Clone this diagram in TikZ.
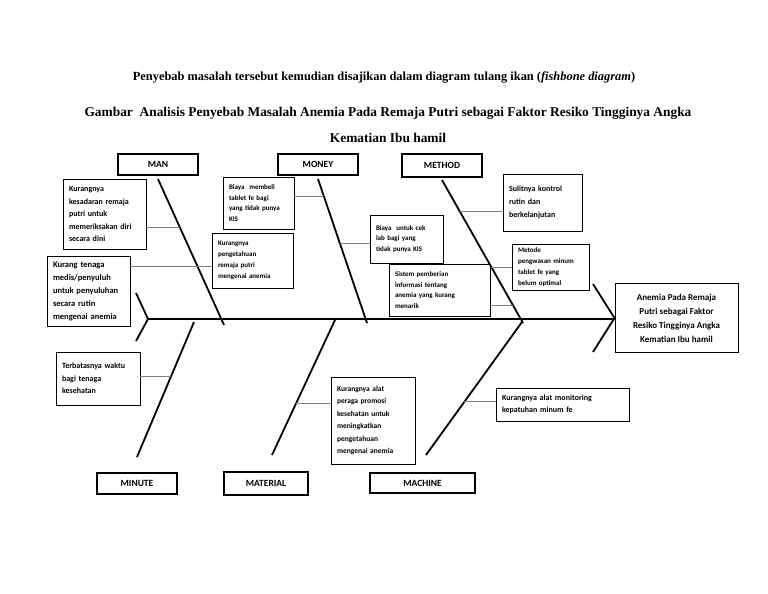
\documentclass[tikz,border=0pt]{standalone}
\usepackage{fontspec}
\setmainfont{Liberation Serif}
\newfontfamily\boxfont{Carlito}
\usetikzlibrary{calc}

\begin{document}
\begin{tikzpicture}[x=1pt, y=-1pt,
      ttl/.style={font=\bfseries\fontsize{13.4}{15}\selectfont},
      cat/.style={draw, line width=1.1pt, inner sep=0pt, font=\boxfont\bfseries\fontsize{9.5}{11}\selectfont},
      cause/.style={draw, line width=0.8pt, align=left, inner xsep=6pt, inner ysep=0pt,
                    font=\boxfont\bfseries\fontsize{8}{12.5}\selectfont},
      small/.style={font=\boxfont\bfseries\fontsize{7}{10.8}\selectfont},
      bone/.style={line width=1.8pt},
      link/.style={gray, line width=0.8pt}]
    \useasboundingbox (0,0) rectangle (768,594);
    % titles
    \node[ttl, font=\bfseries\fontsize{12.4}{14}\selectfont] (t1) at (384,78) {Penyebab masalah tersebut kemudian disajikan dalam diagram tulang ikan (\textit{fishbone diagram})};
    \node[ttl] (t2) at (388,113) {Gambar\ \ Analisis Penyebab Masalah Anemia Pada Remaja Putri sebagai Faktor Resiko Tingginya Angka};
    \node[ttl] (t3) at (388,138) {Kematian Ibu hamil};
    % categories
    \node[cat, minimum width=80, minimum height=21] (man) at (158,164.5) {MAN};
    \node[cat, minimum width=80, minimum height=21] (money) at (318,164.5) {MONEY};
    \node[cat, minimum width=80, minimum height=23] (method) at (442,165.5) {METHOD};
    \node[cat, minimum width=80, minimum height=21] (minute) at (137,483.5) {MINUTE};
    \node[cat, minimum width=84, minimum height=23] (material) at (266,483.5) {MATERIAL};
    \node[cat, minimum width=105, minimum height=20] (machine) at (422.5,483) {MACHINE};
    % head
    \node[draw, line width=1pt, align=center, minimum width=123, minimum height=69,
          font=\boxfont\bfseries\fontsize{9}{14}\selectfont] (head) at (676.5,318)
          {Anemia Pada Remaja\\Putri sebagai Faktor\\Resiko Tingginya Angka\\Kematian Ibu hamil};
    % causes
    \node[cause, text width=71, minimum height=70] (b1) at (104.5,214)
          {Kurangnya\\kesadaran remaja\\putri untuk\\memeriksakan diri\\secara dini};
    \node[cause, text width=71, minimum height=70, font=\boxfont\bfseries\fontsize{8.5}{13}\selectfont] (b2) at (88.5,291)
          {Kurang tenaga\\medis/penyuluh\\untuk penyuluhan\\secara rutin\\mengenai anemia};
    \node[cause, small, text width=59, minimum height=52, font=\boxfont\bfseries\fontsize{7}{10.5}\selectfont] (b3) at (258.5,203)
          {Biaya\ \ membeli\\tablet fe bagi\\yang tidak punya\\KIS};
    \node[cause, small, text width=69, minimum height=55] (b4) at (252.5,260.5)
          {Kurangnya\\pengetahuan\\remaja putri\\mengenai anemia};
    \node[cause, small, text width=61, minimum height=48] (b5) at (406.5,239)
          {Biaya\ \ untuk cek\\lab bagi yang\\tidak punya KIS};
    \node[cause, small, text width=89, minimum height=52] (b6) at (439.5,290)
          {Sistem pemberian\\informasi tentang\\anemia yang kurang\\menarik};
    \node[cause, text width=67, minimum height=57, font=\boxfont\bfseries\fontsize{8}{13.3}\selectfont] (b7) at (542.5,202.5)
          {Sulitnya kontrol\\rutin dan\\berkelanjutan};
    \node[cause, small, text width=65, minimum height=46] (b8) at (550.5,267)
          {Metode\\pengwasan minum\\tablet fe yang\\belum optimal};
    \node[cause, text width=72, minimum height=53] (b9) at (98,378.5)
          {Terbatasnya waktu\\bagi tenaga\\kesehatan};
    \node[cause, text width=72, minimum height=87, font=\boxfont\bfseries\fontsize{7.5}{12.4}\selectfont] (b10) at (373,420.5)
          {Kurangnya alat\\peraga promosi\\kesehatan untuk\\meningkatkan\\pengetahuan\\mengenai anemia};
    \node[cause, text width=121, minimum height=33, font=\boxfont\bfseries\fontsize{8}{11.7}\selectfont] (b11) at (562.5,404.5)
          {Kurangnya alat monitoring\\kepatuhan minum fe};
    % spine, tail and head
    \coordinate (tail) at (148,319);
    \coordinate (tailU) at (136,293);
    \coordinate (tailD) at (136,341);
    \coordinate (headU) at (593,284);
    \coordinate (headD) at (593,352);
    \draw[bone] (tailU) -- (tail) -- (tailD);
    \draw[bone] (tail) -- (tail -| head.west);
    \draw[bone] (headU) -- (head.west) -- (headD);
    % bones
    \coordinate (manT) at (158,179);   \coordinate (manB) at (224,325);
    \coordinate (monT) at (318,179);   \coordinate (monB) at (367,323);
    \coordinate (metT) at (442,180);   \coordinate (metB) at (523,323);
    \coordinate (minB) at (137,457);   \coordinate (minT) at (194,322);
    \coordinate (matB) at (272,455);   \coordinate (matT) at (335,320);
    \coordinate (macB) at (426,455);   \coordinate (macT) at (522,322);
    \foreach \a/\b in {manT/manB, monT/monB, metT/metB, minB/minT, matB/matT, macB/macT}
      \draw[bone] (\a) -- (\b);
    % connectors
    \coordinate (c1) at ($(manT)!0.33!(manB)$);
    \coordinate (c2) at ($(manT)!0.6!(manB)$);
    \coordinate (c3) at ($(monT)!0.12!(monB)$);
    \coordinate (c5) at ($(monT)!0.45!(monB)$);
    \coordinate (c7) at ($(metT)!0.22!(metB)$);
    \coordinate (c8) at ($(metT)!0.61!(metB)$);
    \coordinate (c6) at ($(metT)!0.88!(metB)$);
    \coordinate (c9) at ($(minB)!0.6!(minT)$);
    \coordinate (c10) at ($(matB)!0.385!(matT)$);
    \coordinate (c11) at ($(macB)!0.4!(macT)$);
    \draw[link] (c1) -- (c1 -| b1.east);
    \draw[link] (b2.east |- c2) -- (c2 -| b4.west);
    \draw[link] (c3) -- (c3 -| b3.east);
    \draw[link] (c5) -- (c5 -| b5.west);
    \draw[link] (c7) -- (c7 -| b7.west);
    \draw[link] (c8) -- (c8 -| b8.west);
    \draw[link] (c6) -- (c6 -| b6.east);
    \draw[link] (c9) -- (c9 -| b9.east);
    \draw[link] (c10) -- (c10 -| b10.west);
    \draw[link] (c11) -- (c11 -| b11.west);
  \end{tikzpicture}
\end{document}
